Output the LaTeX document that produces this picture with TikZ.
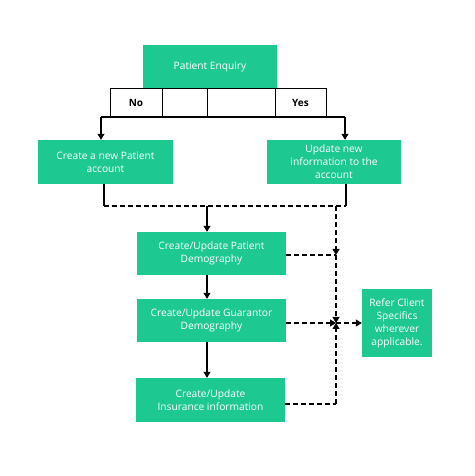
\documentclass[tikz,border=0pt]{standalone}
\usepackage{fontspec}
\setmainfont{Open Sans}
\usetikzlibrary{arrows.meta}
\definecolor{boxgreen}{RGB}{30,200,145}
\begin{document}
\begin{tikzpicture}[x=1pt,y=1pt,
  gbox/.style={fill=boxgreen,text=white,inner sep=0pt,align=center,
    font=\fontsize{10.2}{13}\selectfont,anchor=center},
  cell/.style={draw=black,line width=0.9pt,inner sep=0pt,minimum height=29pt,
    font=\fontsize{10}{12}\selectfont\bfseries,anchor=center},
  solidline/.style={line width=1.1pt,black},
  dashline/.style={line width=1.1pt,black,dash pattern=on 5pt off 3pt},
  arr/.style={-{Triangle[width=7pt,length=6pt]}}
]
\useasboundingbox (0,0) rectangle (474,476);
\fill[white] (0,0) rectangle (474,476);

% boxes
\node[gbox,minimum width=134pt,minimum height=43pt] (enq) at (210,409.5) {Patient Enquiry};
\node[cell,minimum width=52pt] (no) at (136,373.5) {No};
\node[cell,minimum width=45pt] (c2) at (184.5,373.5) {};
\node[cell,minimum width=68pt] (c3) at (241,373.5) {};
\node[cell,minimum width=51pt] (yes) at (300.5,373.5) {Yes};

\node[gbox,minimum width=135pt,minimum height=44pt] (create) at (105.5,314) {Create a new Patient\\account};
\node[gbox,minimum width=134pt,minimum height=44pt] (update) at (334,314) {Update new\\information to the\\account};
\node[gbox,minimum width=149pt,minimum height=43pt] (pdemo) at (211.5,222.5) {Create/Update Patient\\Demography};
\node[gbox,minimum width=149pt,minimum height=43pt] (gdemo) at (211.5,155.5) {Create/Update Guarantor\\Demography};
\node[gbox,minimum width=149pt,minimum height=44pt] (ins) at (210.5,76) {Create/Update\\Insurance information};
\node[gbox,minimum width=70pt,minimum height=68pt] (refer) at (397,153) {Refer Client\\Specifics\\wherever\\applicable.};

% coordinates
\coordinate (L) at (101,359);
\coordinate (R) at (345,359);
\coordinate (cb) at (104,270);
\coordinate (ub) at (346,270);
\coordinate (mid) at (207,270);
\coordinate (jtop) at (336,270);
\coordinate (j1) at (336,221);
\coordinate (j2) at (336,153);
\coordinate (j3) at (336,72);

% solid connectors
\draw[solidline] (L) -- (R);
\draw[solidline,arr] (L) -- (L |- create.north);
\draw[solidline,arr] (R) -- (R |- update.north);
\draw[solidline] (cb |- create.south) -- (cb);
\draw[solidline] (ub |- update.south) -- (ub);
\draw[solidline,arr] (mid) -- (mid |- pdemo.north);
\draw[solidline,arr] (mid |- pdemo.south) -- (mid |- gdemo.north);
\draw[solidline,arr] (mid |- gdemo.south) -- (mid |- ins.north);

% dashed connectors
\draw[dashline] (cb) -- (ub);
\draw[dashline,arr] (jtop) -- (j1);
\draw[dashline] (pdemo.east |- j1) -- (j1);
\draw[dashline,arr] (j1) -- (j2);
\draw[dashline,arr] (gdemo.east |- j2) -- (j2);
\draw[dashline] (ins.east |- j3) -- (j3);
\draw[dashline,arr] (j3) -- (j2);
\draw[dashline,arr] (j2) -- (refer.west |- j2);
\end{tikzpicture}
\end{document}
